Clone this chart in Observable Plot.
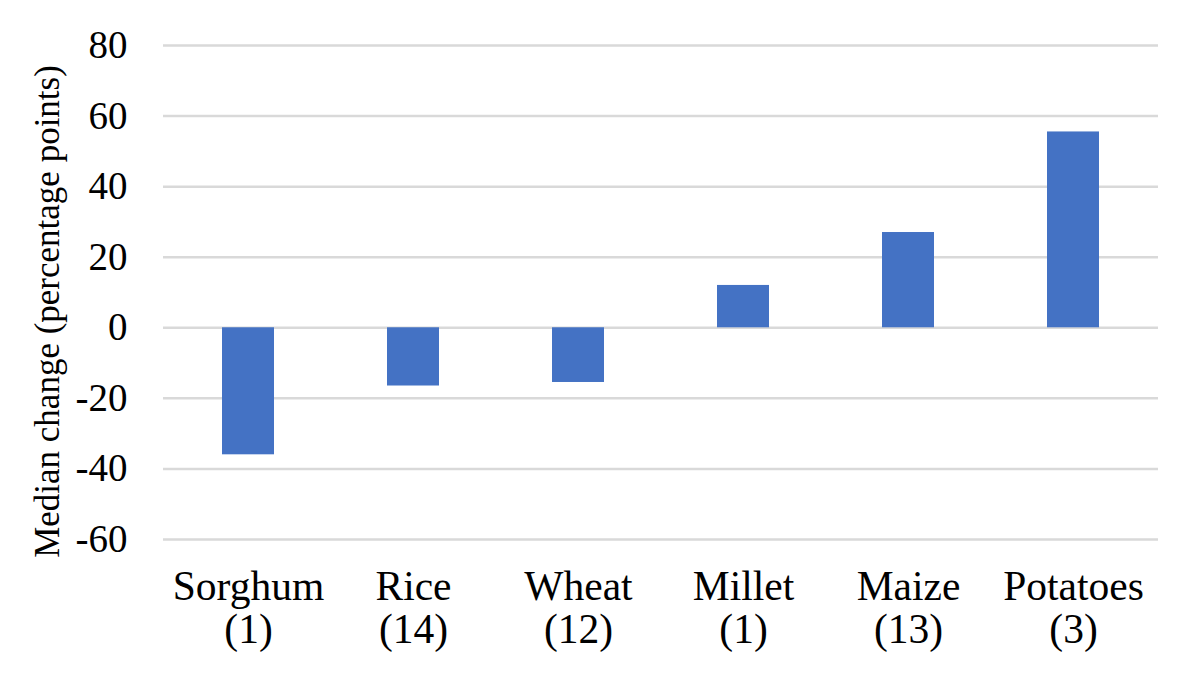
<!DOCTYPE html>
<html>
<head>
<meta charset="utf-8">
<script src="https://cdn.jsdelivr.net/npm/d3@7"></script>
<script src="https://cdn.jsdelivr.net/npm/@observablehq/plot@0.6"></script>
<style>
  html, body { margin: 0; padding: 0; background: #fff; }
  #chart { width: 1200px; height: 693px; }
</style>
</head>
<body>
<div id="chart"></div>
<script>
// Crops, number of studies per crop, and median change in percentage points
const crops = ["Sorghum", "Rice", "Wheat", "Millet", "Maize", "Potatoes"];
const studies = [1, 14, 12, 1, 13, 3];
const medianChange = [-36, -16.5, -15.5, 12, 27, 55.5];
const yTicks = [-60, -40, -20, 0, 20, 40, 60, 80];
const yLabel = "Median change (percentage points)";

const rows = crops.map((crop, i) => ({crop, value: medianChange[i]}));

const chart = Plot.plot({
  width: 1200,
  height: 693,
  marginLeft: 163,
  marginRight: 42,
  marginTop: 45,
  marginBottom: 154,
  style: {fontFamily: "'Liberation Serif', 'Times New Roman', serif", color: "#000", background: "#fff"},
  x: {domain: crops, paddingInner: 0.686, paddingOuter: 0.343, label: null},
  y: {domain: [-60, 80], label: null},
  marks: [
    Plot.ruleY(yTicks, {stroke: "#d9d9d9", strokeWidth: 2.5}),
    Plot.barY(rows, {x: "crop", y: "value", fill: "#4472C4"}),
    Plot.axisY({
      ticks: yTicks,
      tickSize: 0,
      tickPadding: 36,
      fontSize: 39,
      tickFormat: d => `${d}`,
      label: null
    }),
    Plot.axisX({
      tickSize: 0,
      tickPadding: 30,
      fontSize: 41.5,
      lineHeight: 1.04,
      tickFormat: d => `${d}\n(${studies[crops.indexOf(d)]})`,
      label: null
    }),
    // rotated axis title, centred beside the tick labels
    Plot.text([yLabel], {
      text: d => d,
      frameAnchor: "left",
      textAnchor: "middle",
      rotate: -90,
      dx: -116,
      dy: 19,
      fontSize: 35,
      fill: "#000",
      style: {wordSpacing: "3px"}
    })
  ]
});

document.getElementById("chart").appendChild(chart);
</script>
</body>
</html>
